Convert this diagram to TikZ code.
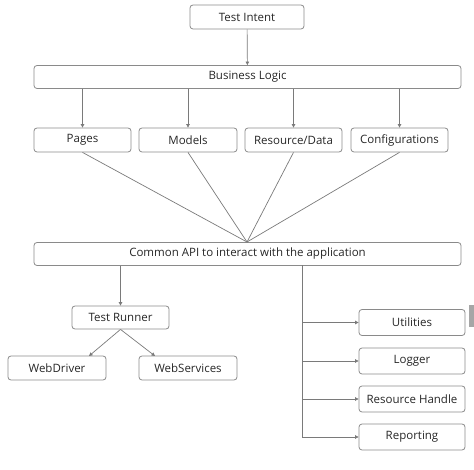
\documentclass[tikz,border=0pt]{standalone}
\usepackage{fontspec}
\setmainfont{Open Sans}
\usetikzlibrary{arrows.meta}
\definecolor{boxline}{HTML}{8A8A8A}
\definecolor{conn}{HTML}{7A7A7A}
\definecolor{txt}{HTML}{262626}
\tikzset{
  box/.style={draw=boxline, line width=0.8pt, rounded corners=3pt, text=txt, font=\fontsize{11.5}{13}\selectfont, inner sep=0pt, anchor=center},
  conn/.style={draw=conn, line width=0.7pt, -{Triangle[length=3.5pt,width=3.5pt]}},
  plain/.style={draw=conn, line width=0.7pt},
}
\begin{document}
\begin{tikzpicture}[x=1pt,y=-1pt]
\useasboundingbox (0,0) rectangle (474,470);
\node[box, minimum width=114pt, minimum height=24pt] (ti) at (247,17) {Test Intent};
\node[box, minimum width=427pt, minimum height=23pt] (bl) at (247.5,77) {Business Logic};
\node[box, minimum width=97pt, minimum height=24pt] (pg) at (82.5,140) {Pages};
\node[box, minimum width=98pt, minimum height=24pt] (md) at (188,140) {Models};
\node[box, minimum width=97pt, minimum height=24pt] (rd) at (293.5,140) {Resource/Data};
\node[box, minimum width=97pt, minimum height=24pt] (cf) at (399.5,140) {Configurations};
\node[box, minimum width=427pt, minimum height=23pt] (api) at (247.5,254) {Common API to interact with the application};
\node[box, minimum width=97pt, minimum height=23pt] (tr) at (120.5,317.5) {Test Runner};
\node[box, minimum width=98pt, minimum height=24pt] (wd) at (57,368) {WebDriver};
\node[box, minimum width=98pt, minimum height=24pt] (ws) at (188,368) {WebServices};
\node[box, minimum width=106pt, minimum height=26pt] (ut) at (412,322.5) {Utilities};
\node[box, minimum width=106pt, minimum height=26pt] (lg) at (412,361) {Logger};
\node[box, minimum width=106pt, minimum height=26pt] (rh) at (412,399) {Resource Handle};
\node[box, minimum width=106pt, minimum height=26pt] (rp) at (412,437) {Reporting};

\draw[conn] (ti) -- (bl);
\draw[conn] (bl.south -| pg) -- (pg);
\draw[conn] (bl.south -| md) -- (md);
\draw[conn] (bl.south -| rd) -- (rd);
\draw[conn] (bl.south -| cf) -- (cf);
\coordinate (meet) at (247,242);
\foreach \n in {pg,md,rd,cf} \draw[plain] (\n.south) -- (meet);
\draw[conn] (api.south -| tr) -- (tr);
\draw[conn] (tr.south) -- (89,356);
\draw[conn] (tr.south) -- (155,356);
\coordinate (bus) at (302,265.5);
\coordinate (busend) at (302,437);
\draw[plain] (bus) -- (busend);
\foreach \n in {ut,lg,rh} \draw[conn] (bus |- \n) -- (\n);
\draw[conn] (busend) -- (rp);
\fill[gray!70] (469,305) rectangle (474,327);
\end{tikzpicture}
\end{document}
